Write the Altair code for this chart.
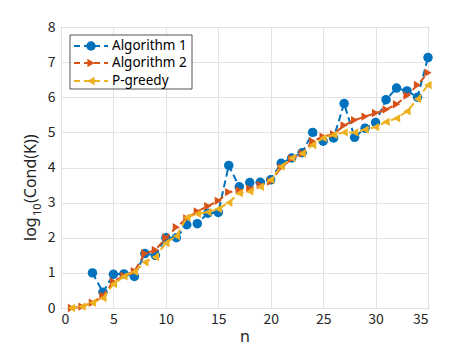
import altair as alt
import pandas as pd

n_alg1 = list(range(3, 36))
alg1 = [1.0, 0.45, 0.96, 0.97, 0.9, 1.55, 1.5, 2.0, 2.0, 2.37, 2.4, 2.7, 2.72, 4.06,
        3.45, 3.57, 3.58, 3.65, 4.12, 4.27, 4.42, 5.0, 4.75, 4.84, 5.82, 4.86, 5.12,
        5.28, 5.93, 6.26, 6.18, 6.0, 7.13]

n_all = list(range(1, 36))
alg2 = [0.0, 0.04, 0.15, 0.35, 0.75, 0.92, 1.05, 1.55, 1.65, 2.0, 2.3, 2.55, 2.75, 2.9,
        3.05, 3.3, 3.35, 3.4, 3.5, 3.6, 4.0, 4.25, 4.4, 4.75, 4.88, 4.95, 5.2, 5.35,
        5.45, 5.55, 5.65, 5.8, 6.05, 6.35, 6.7]
pgreedy = [0.0, 0.04, 0.15, 0.28, 0.68, 0.9, 1.03, 1.3, 1.45, 1.85, 2.05, 2.58, 2.68,
           2.73, 2.82, 3.0, 3.27, 3.32, 3.45, 3.65, 4.03, 4.27, 4.4, 4.64, 4.84, 4.93,
           5.0, 5.0, 5.08, 5.15, 5.3, 5.4, 5.6, 5.95, 6.35]

x_ticks = [0, 5, 10, 15, 20, 25, 30, 35]
y_ticks = [0, 1, 2, 3, 4, 5, 6, 7, 8]

series_names = ["Algorithm 1", "Algorithm 2", "P-greedy"]
colors = ["#0072BD", "#D95319", "#EDB120"]
shapes = ["circle", "triangle-right", "triangle-left"]
sizes = [90, 70, 70]

# y-axis title pieces: "log", subscript "10", "(Cond(K))"
ytitle_parts = ["log", "10", "(Cond(K))"]

FONT = "Noto Sans CJK JP"
TFONT = "Noto Sans"

xs = alt.Scale(domain=[0, 35], nice=False)
ys = alt.Scale(domain=[0, 8], nice=False)
xax = alt.Axis(values=x_ticks, labelOverlap=False)
yax = alt.Axis(values=y_ticks, labelOverlap=False)


def enc_x():
    return alt.X("n:Q", scale=xs, title="n", axis=xax)


def enc_y():
    return alt.Y("v:Q", scale=ys, title=None, axis=yax)


def series_layers(nvals, vals, color, shape, size):
    df = pd.DataFrame({"n": nvals, "v": vals})
    line = alt.Chart(df).mark_line(color=color, strokeWidth=2, strokeDash=[7, 4]).encode(
        x=enc_x(), y=enc_y())
    pts = alt.Chart(df).mark_point(color=color, filled=True, opacity=1, shape=shape,
                                   size=size).encode(x=enc_x(), y=enc_y())
    return [line, pts]


layers = []
layers += series_layers(n_alg1, alg1, colors[0], shapes[0], sizes[0])
layers += series_layers(n_all, alg2, colors[1], shapes[1], sizes[1])
layers += series_layers(n_all, pgreedy, colors[2], shapes[2], sizes[2])

# manual legend
dummy = pd.DataFrame({"a": [0]})
legend_box = alt.Chart(dummy).mark_rect(fill="white", stroke="#262626", strokeWidth=0.8).encode(
    x=alt.value(9), x2=alt.value(131), y=alt.value(8), y2=alt.value(62))
layers.append(legend_box)
ypos = [19, 36, 54]
for name, c, s, sz, yy in zip(series_names, colors, shapes, sizes, ypos):
    layers.append(alt.Chart(dummy).mark_rule(color=c, strokeWidth=2, strokeDash=[6, 4]).encode(
        x=alt.value(13), x2=alt.value(47), y=alt.value(yy)))
    layers.append(alt.Chart(dummy).mark_point(color=c, filled=True, opacity=1, shape=s,
                                              size=sz).encode(x=alt.value(30), y=alt.value(yy)))
    layers.append(alt.Chart(pd.DataFrame({"t": [name]})).mark_text(
        align="left", baseline="middle", font=TFONT, fontSize=13.5, color="#000000").encode(
        x=alt.value(51), y=alt.value(yy), text="t:N"))

# y-axis title built from pieces (to get a real subscript)
t_specs = [  # (text, font size, x baseline, y start)
    (ytitle_parts[0], 16, -25, 214),
    (ytitle_parts[1], 11, -20, 189),
    (ytitle_parts[2], 16, -25, 176),
]
for txt, fs, xx, yy in t_specs:
    layers.append(alt.Chart(pd.DataFrame({"t": [txt]})).mark_text(
        align="left", baseline="alphabetic", angle=270, font=TFONT, fontSize=fs,
        color="#262626").encode(x=alt.value(xx), y=alt.value(yy), text="t:N"))

chart = alt.layer(*layers).properties(
    width=367, height=281,
    autosize=alt.AutoSizeParams(type="none"),
    padding={"left": 61, "top": 27, "right": 46, "bottom": 47},
).configure_view(
    stroke="#262626", strokeWidth=1
).configure_axis(
    domain=False, ticks=False, grid=True, gridColor="#e3e3e3", gridWidth=1,
    labelFont=FONT, labelFontSize=14, labelColor="#262626",
    titleFont=TFONT, titleFontSize=16, titleColor="#262626", titleFontWeight="normal",
).configure_axisX(
    labelPadding=4, titlePadding=2
).configure_axisY(
    labelPadding=6
)

chart.save("out.html", embed_options={"renderer": "svg", "actions": False})
